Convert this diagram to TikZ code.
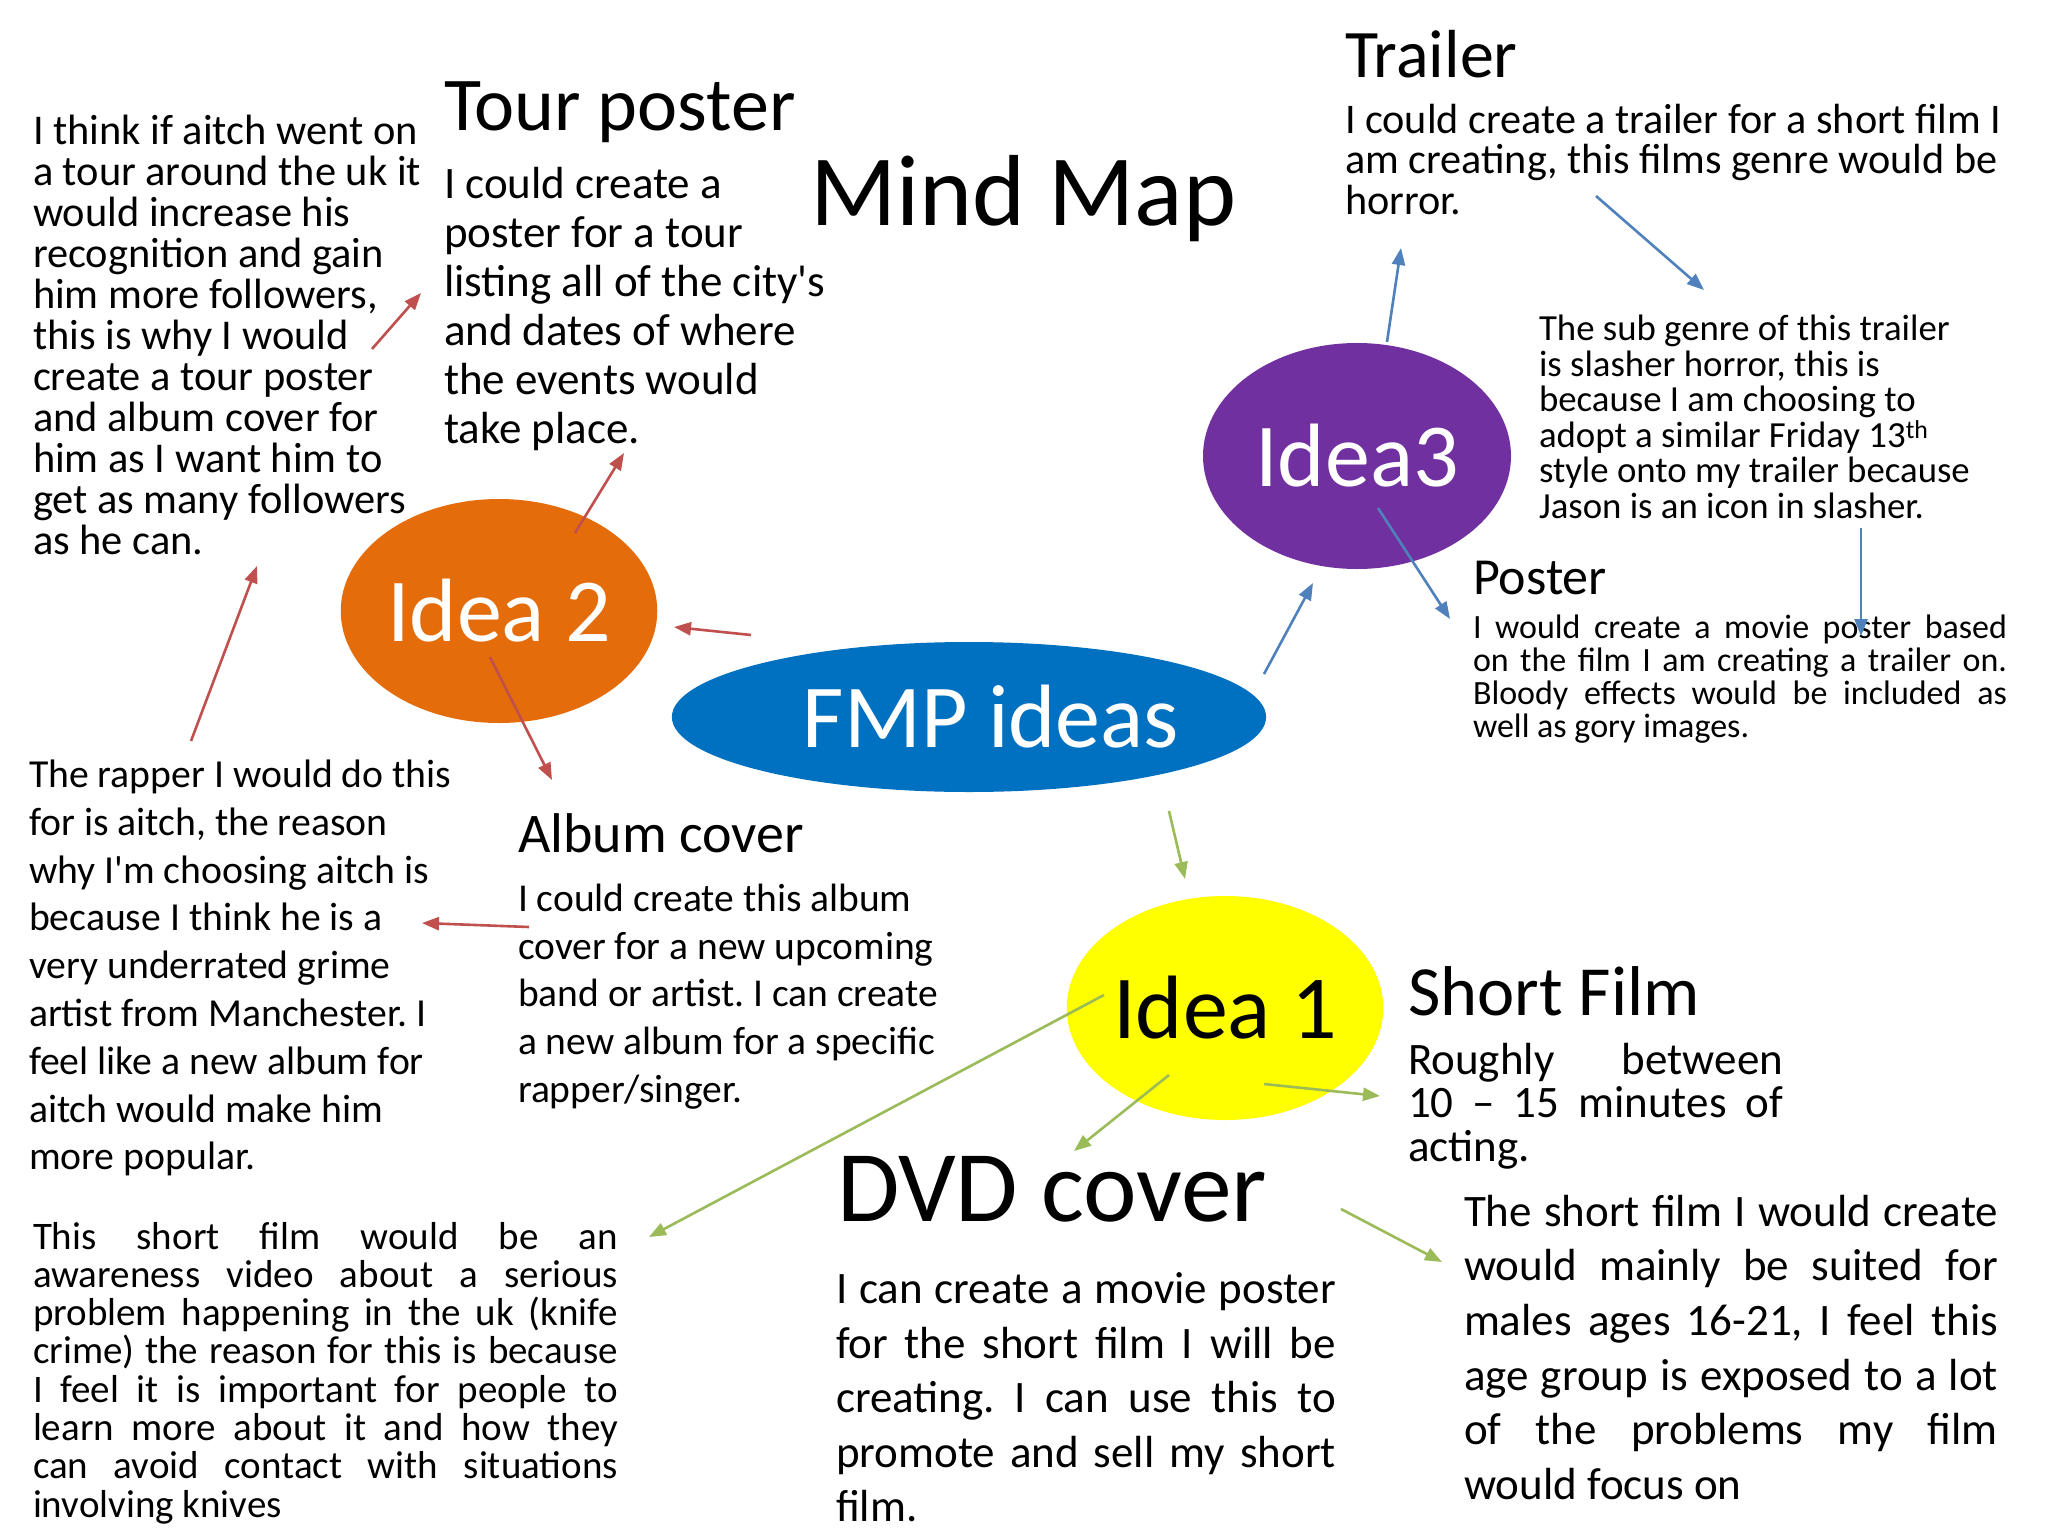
\documentclass[tikz,border=0pt]{standalone}
\usepackage{fontspec}
\setmainfont{Carlito}
\usetikzlibrary{shapes.geometric,arrows.meta}
\definecolor{orng}{HTML}{E46C0A}
\definecolor{fmpblue}{HTML}{0070C0}
\definecolor{purp}{HTML}{7030A0}
\definecolor{yell}{HTML}{FFFF00}
\definecolor{redarr}{HTML}{C0504D}
\definecolor{bluearr}{HTML}{4F81BD}
\definecolor{greenarr}{HTML}{9BBB59}
\newcommand{\setfs}[2]{\fontsize{#1bp}{#2bp}\selectfont}
\newcommand{\justline}[2]{\makebox[#1bp][s]{#2}}
\newcommand{\sq}{\textquotesingle}
\frenchspacing
\tikzset{
  txt/.style={anchor=north west, inner sep=0pt, outer sep=0pt, align=left},
  head/.style={anchor=base west, inner sep=0pt, outer sep=0pt},
  blob/.style={ellipse, inner sep=0pt, outer sep=0pt, draw=none},
  arr/.style={line width=2.6bp, -{Triangle[length=17bp,width=13bp]}},
  rarr/.style={arr, draw=redarr},
  barr/.style={arr, draw=bluearr},
  garr/.style={arr, draw=greenarr},
}
\begin{document}
\begin{tikzpicture}[x=1bp,y=-1bp]
\fill[white] (0,0) rectangle (2048,1536);
\path[use as bounding box] (0,0) rectangle (2048,1536);

% ---- ellipses
\node[blob, fill=orng, minimum width=306bp, minimum height=224bp, text=white, font=\setfs{90}{90}] (idea2) at (499,611) {Idea 2};
\node[blob, fill=fmpblue, minimum width=590bp, minimum height=150bp, text=white, font=\setfs{90}{90}] (fmp) at (969,717) {\hspace*{44bp}FMP ideas};
\node[blob, fill=purp, minimum width=308bp, minimum height=226bp, text=white, font=\setfs{90}{90}] (idea3) at (1357,456) {Idea3};
\node[blob, fill=yell, minimum width=308bp, minimum height=224bp, text=black, font=\setfs{90}{90}] (idea1) at (1225,1008) {Idea 1};

% ---- headings
\node[head, font=\setfs{101}{101}] (mindmap) at (810,225) {Mind Map};
\node[head, font=\setfs{76}{76}] (tourhead) at (444,131) {Tour poster};
\node[head, font=\setfs{68}{68}] (trailerhead) at (1345,78) {Trailer};
\node[head, font=\setfs{52}{52}] (posterhead) at (1473,594) {Poster};
\node[head, font=\setfs{56}{56}] (albumhead) at (518,852) {Album cover};
\node[head, font=\setfs{70.5}{70.5}] (shorthead) at (1408,1015) {Short Film};
\node[head, font=\setfs{101.5}{101.5}] (dvdhead) at (837,1221) {DVD cover};

% ---- text blocks
\node[txt, font=\setfs{42.4}{41}] (lefttop) at (33,115) {I think if aitch went on\\a tour around the uk it\\would increase his\\recognition and gain\\him more followers,\\this is why I would\\create a tour poster\\and album cover for\\him as I want him to\\get as many followers\\as he can.};

\node[txt, font=\setfs{45}{49}] (tourtext) at (444,167) {I could create a\\poster for a tour\\listing all of the city\sq s\\and dates of where\\the events would\\take place.};

\node[txt, font=\setfs{42.2}{40.5}] (trailertext) at (1345,104) {I could create a trailer for a short film I\\am creating, this films genre would be\\horror.};

\node[txt, font=\setfs{36.8}{35.5}] (subgenre) at (1539,315) {The sub genre of this trailer\\is slasher horror, this is\\because I am choosing to\\adopt a similar Friday 13\textsuperscript{th}\\style onto my trailer because\\Jason is an icon in slasher.};

\node[txt, font=\setfs{34}{33}] (postertext) at (1473,615) {\justline{534}{I would create a movie poster based}\\\justline{534}{on the film I am creating a trailer on.}\\\justline{534}{Bloody effects would be included as}\\well as gory images.};

\node[txt, font=\setfs{39.5}{47.7}] (albumtext) at (518,884) {I could create this album\\cover for a new upcoming\\band or artist. I can create\\a new album for a specific\\rapper/singer.};

\node[txt, font=\setfs{39.7}{47.8}] (rapper) at (29,760) {The rapper I would do this\\for is aitch, the reason\\why I\sq m choosing aitch is\\because I think he is a\\very underrated grime\\artist from Manchester. I\\feel like a new album for\\aitch would make him\\more popular.};

\node[txt, font=\setfs{45}{43.7}] (shorttext) at (1408,1043) {\justline{375}{Roughly between}\\\justline{375}{10 -- 15 minutes of}\\acting.};

\node[txt, font=\setfs{45}{54.5}] (dvdtext) at (836,1273) {\justline{500}{I can create a movie poster}\\\justline{500}{for the short film I will be}\\\justline{500}{creating. I can use this to}\\\justline{500}{promote and sell my short}\\film.};

\node[txt, font=\setfs{45}{54.6}] (shorttext2) at (1464,1195) {\justline{534}{The short film I would create}\\\justline{534}{would mainly be suited for}\\\justline{534}{males ages 16-21, I feel this}\\\justline{534}{age group is exposed to a lot}\\\justline{534}{of the problems my film}\\would focus on};

\node[txt, font=\setfs{39}{38.3}] (bottomleft) at (33,1222) {\justline{585}{This short film would be an}\\\justline{585}{awareness video about a serious}\\\justline{585}{problem happening in the uk (knife}\\\justline{585}{crime) the reason for this is because}\\\justline{585}{I feel it is important for people to}\\\justline{585}{learn more about it and how they}\\\justline{585}{can avoid contact with situations}\\involving knives};

% ---- arrow end points
\coordinate (ra1) at (372,349);  \coordinate (ra2) at (421,293);
\coordinate (rb1) at (575,533);  \coordinate (rb2) at (624,453);
\coordinate (rc1) at (751,635);  \coordinate (rc2) at (674,627);
\coordinate (rd1) at (490,657);  \coordinate (rd2) at (552,780);
\coordinate (re1) at (191,741);  \coordinate (re2) at (257,566);
\coordinate (rf1) at (529,927);  \coordinate (rf2) at (422,923);

\coordinate (bg1) at (1387,342); \coordinate (bg2) at (1401,248);
\coordinate (bh1) at (1596,196); \coordinate (bh2) at (1704,290);
\coordinate (bi1) at (1264,674); \coordinate (bi2) at (1313,583);
\coordinate (bj1) at (1378,508); \coordinate (bj2) at (1450,619);
\coordinate (bk1) at (1861,528); \coordinate (bk2) at (1861,636);

\coordinate (gl1) at (1169,811); \coordinate (gl2) at (1185,879);
\coordinate (gm1) at (1104,995); \coordinate (gm2) at (649,1237);
\coordinate (gn1) at (1169,1075); \coordinate (gn2) at (1074,1151);
\coordinate (go1) at (1264,1084); \coordinate (go2) at (1380,1096);
\coordinate (gp1) at (1341,1209); \coordinate (gp2) at (1442,1262);

% ---- arrows
\draw[rarr] (ra1) -- (ra2);
\draw[rarr] (rb1) -- (rb2);
\draw[rarr] (rc1) -- (rc2);
\draw[rarr] (rd1) -- (rd2);
\draw[rarr] (re1) -- (re2);
\draw[rarr] (rf1) -- (rf2);

\draw[barr] (bg1) -- (bg2);
\draw[barr] (bh1) -- (bh2);
\draw[barr] (bi1) -- (bi2);
\draw[barr] (bj1) -- (bj2);
\draw[barr] (bk1) -- (bk2);

\draw[garr] (gl1) -- (gl2);
\draw[garr] (gm1) -- (gm2);
\draw[garr] (gn1) -- (gn2);
\draw[garr] (go1) -- (go2);
\draw[garr] (gp1) -- (gp2);
\end{tikzpicture}
\end{document}
